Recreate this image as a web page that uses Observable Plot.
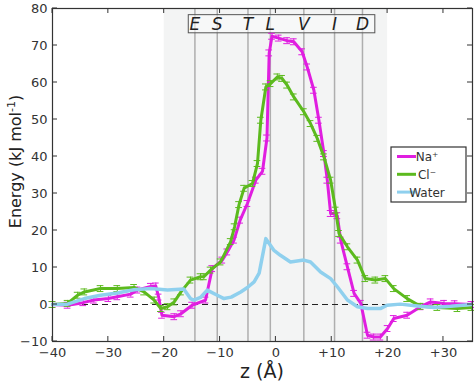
<!DOCTYPE html>
<html><head><meta charset="utf-8">
<script src="https://cdn.jsdelivr.net/npm/d3@7"></script>
<script src="https://cdn.jsdelivr.net/npm/@observablehq/plot@0.6"></script>
<style>body{margin:0;background:#fff;} #chart svg{display:block;}</style>
</head><body><div id="chart"></div>
<script>
// ---- data ----
const naZ = [-40, -37.3, -34.5, -32.6, -30, -28.4, -26, -24.8, -22.4, -21.5, -21.0, -20.4, -18.2, -17, -15, -12.6, -11.4, -9.6, -8.7, -7.5, -6.4, -5.1, -3.6, -2.4, -1.6, -1.2, -0.7, 0.5, 2, 3.2, 4.7, 5.6, 6.8, 7.7, 8.6, 9.2, 9.8, 10.4, 11.0, 11.6, 12.8, 14.0, 15.2, 16.4, 17.5, 18.7, 20, 21.1, 23.5, 25.9, 27.7, 30.1, 32, 35];
const naE = [0, -0.2, 0.5, 1.2, 1.6, 2.1, 2.8, 3.9, 4.9, 5.0, 2, -2.9, -3.3, -2.5, -0.2, 1.2, 9.7, 12, 14.2, 17.4, 22.8, 27.3, 33.6, 36, 45, 68, 72.5, 72, 71.3, 71, 68.3, 64.2, 57.9, 49.8, 40.8, 33.6, 24.6, 24.6, 24, 17.4, 10.2, 3, 0.3, -8.3, -8.8, -8.8, -6.5, -3.8, -2.9, -0.6, 0.7, 0.3, 0.2, 0];

const clZ = [-40, -37.3, -35.5, -34.3, -31.4, -28.4, -25.4, -23.6, -21.8, -20.6, -19.4, -18.2, -17.0, -15.3, -13.5, -12.9, -11.7, -9.9, -8.1, -7.4, -6.6, -5.7, -4.2, -3.3, -2.7, -1.8, -0.95, 0.25, 1.1, 2.0, 3.2, 5.0, 6.2, 7.4, 8.6, 9.8, 10.7, 11.3, 12.8, 14.6, 16.0, 17.8, 19.6, 21.1, 23.5, 25.9, 28.9, 32.5, 35];
const clE = [0, 0.3, 2.5, 3.4, 4.3, 4.3, 4.6, 3.4, 1.2, -1.1, -0.6, 0.7, 3.4, 6.6, 7.5, 7.5, 9.3, 11.5, 17, 21, 27, 31.4, 32.7, 38.1, 49.8, 58.8, 59.7, 61.5, 61.1, 59.3, 56.1, 52.1, 48.9, 44.9, 39.9, 33.6, 25.5, 19.2, 15.6, 12.0, 7.0, 6.6, 7.0, 4.3, 1.6, -0.5, -0.8, -1.1, -0.8];

const waterZ = [-40, -37.3, -34.3, -31.4, -28.4, -25.4, -22.4, -19.4, -16.5, -15.3, -14.7, -13.5, -12.3, -10.5, -9.3, -8.0, -6.3, -5.1, -3.9, -3.0, -1.8, -0.4, 0.8, 2.6, 5.0, 6.2, 8.0, 9.8, 11.0, 12.8, 14.6, 16.4, 18.7, 19.9, 22.3, 25.3, 28.3, 31.3, 35];
const waterE = [0, 0.1, 1.6, 2.5, 3.1, 4.0, 4.3, 3.9, 4.2, 1.6, 1.2, 1.9, 3.9, 2.5, 1.6, 2.0, 3.4, 4.6, 6.1, 8.5, 17.8, 14.7, 13.3, 11.5, 12.0, 11.5, 8.8, 7.0, 4.8, 1.2, -0.6, -1.1, -1.1, -0.2, 0.1, -0.4, -0.8, -0.5, 0];

const errSize = 0.8;
const membrane = [-20, 20];
const residues = ["E", "S", "T", "L", "V", "I", "D"];
const residueZ = [-14.5, -10.5, -5, -1, 5, 10.5, 15.5];
const xTicks = [-40, -30, -20, -10, 0, 10, 20, 30];
const yTicks = [-10, 0, 10, 20, 30, 40, 50, 60, 70, 80];
const seriesNames = ["Na⁺", "Cl⁻", "Water"];
const seriesColors = ["#e01ee0", "#5cba1e", "#8fd0ee"];

// ---- build ----
const series = [
  {name: seriesNames[0], color: seriesColors[0], z: naZ, e: naE, err: true},
  {name: seriesNames[1], color: seriesColors[1], z: clZ, e: clE, err: true},
  {name: seriesNames[2], color: seriesColors[2], z: waterZ, e: waterE, err: false}
];
const xDomain = [-40, 35.2], yDomain = [-10, 80];
const minus = v => v < 0 ? "−" + (-v) : String(v);

const marks = [
  Plot.rect([membrane], {x1: d => d[0], x2: d => d[1], y1: yDomain[0], y2: yDomain[1], fill: "#f3f4f4"}),
  Plot.ruleX(residueZ, {stroke: "#aeaeae", strokeWidth: 1.5}),
  Plot.ruleY([0], {stroke: "#222", strokeDasharray: "6,4", strokeWidth: 1.2}),
  Plot.rect([residueZ], {x1: d => d[0] - 1.1, x2: d => d[d.length - 1] + 2.3, y1: 73.3, y2: 78.2, fill: "#fafafa", fillOpacity: 0.6, stroke: "#555", strokeWidth: 1}),
  Plot.text(residues, {x: (d, i) => residueZ[i], y: 75.75, text: d => d, fontSize: 17, fontStyle: "italic", fill: "#222"})
];
for (const s of series) {
  const rows = s.z.map((z, i) => ({z, e: s.e[i]}));
  if (s.err) {
    marks.push(Plot.ruleX(rows, {x: "z", y1: d => d.e - errSize, y2: d => d.e + errSize, stroke: s.color, strokeWidth: 1}));
    marks.push(Plot.ruleY(rows, {y: d => d.e - errSize, x1: d => d.z - 0.6, x2: d => d.z + 0.6, stroke: s.color, strokeWidth: 1}));
    marks.push(Plot.ruleY(rows, {y: d => d.e + errSize, x1: d => d.z - 0.6, x2: d => d.z + 0.6, stroke: s.color, strokeWidth: 1}));
  }
  marks.push(Plot.line(rows, {x: "z", y: "e", stroke: s.color, strokeWidth: s.err ? 3 : 3.5, strokeLinejoin: "round"}));
}
marks.push(
  Plot.frame({stroke: "#333", strokeWidth: 1.2}),
  Plot.axisX({ticks: xTicks, tickSize: 0, tickPadding: 6, tickFormat: d => d > 0 ? "+" + d : minus(d), label: null, fontSize: 13}),
  Plot.axisY({ticks: yTicks, tickSize: 0, tickPadding: 5, tickFormat: minus, label: null, fontSize: 13})
);

const plot = Plot.plot({
  width: 474, height: 384,
  marginLeft: 52, marginRight: 2, marginTop: 8, marginBottom: 43,
  x: {domain: xDomain}, y: {domain: yDomain},
  style: {fontFamily: "DejaVu Sans", fontSize: "13px", color: "#333", background: "#fff"},
  marks
});
document.getElementById("chart").append(plot);

// inward ticks, axis labels, legend
const svg = d3.select(plot);
const sx = plot.scale("x"), sy = plot.scale("y");
const x0 = sx.apply(xDomain[0]), x1 = sx.apply(xDomain[1]);
const y0 = sy.apply(yDomain[0]), y1 = sy.apply(yDomain[1]);
const g = svg.append("g").attr("stroke", "#333").attr("stroke-width", 1);
for (const t of xTicks) {
  const px = sx.apply(t);
  g.append("line").attr("x1", px).attr("x2", px).attr("y1", y0).attr("y2", y0 - 5);
  g.append("line").attr("x1", px).attr("x2", px).attr("y1", y1).attr("y2", y1 + 5);
}
for (const t of yTicks) {
  const py = sy.apply(t);
  g.append("line").attr("x1", x0).attr("x2", x0 + 5).attr("y1", py).attr("y2", py);
  g.append("line").attr("x1", x1).attr("x2", x1 - 5).attr("y1", py).attr("y2", py);
}
svg.append("text")
  .attr("x", (x0 + x1) / 2).attr("y", 378)
  .attr("text-anchor", "middle").attr("font-size", 19).attr("fill", "#222")
  .attr("font-family", "DejaVu Sans").text("z (Å)");
const yl = svg.append("text")
  .attr("transform", `translate(21,161.5) rotate(-90)`)
  .attr("text-anchor", "middle").attr("font-size", 16).attr("fill", "#222")
  .attr("font-family", "DejaVu Sans");
yl.append("tspan").text("Energy (kJ mol");
yl.append("tspan").attr("dy", -6).attr("font-size", 11).text("-1");
yl.append("tspan").attr("dy", 6).text(")");

const lg = svg.append("g").attr("font-family", "DejaVu Sans").attr("font-size", 12);
lg.append("rect").attr("x", 391).attr("y", 147).attr("width", 75).attr("height", 55)
  .attr("fill", "#fff").attr("stroke", "#333").attr("stroke-width", 1.2);
series.forEach((s, i) => {
  const yy = 156.5 + i * 17.8;
  lg.append("line").attr("x1", 397).attr("x2", 416).attr("y1", yy).attr("y2", yy)
    .attr("stroke", s.color).attr("stroke-width", 3);
  lg.append("text").attr("x", 427).attr("y", yy + 4.5).attr("fill", "#333").text(s.name);
});
</script>
</body></html>
